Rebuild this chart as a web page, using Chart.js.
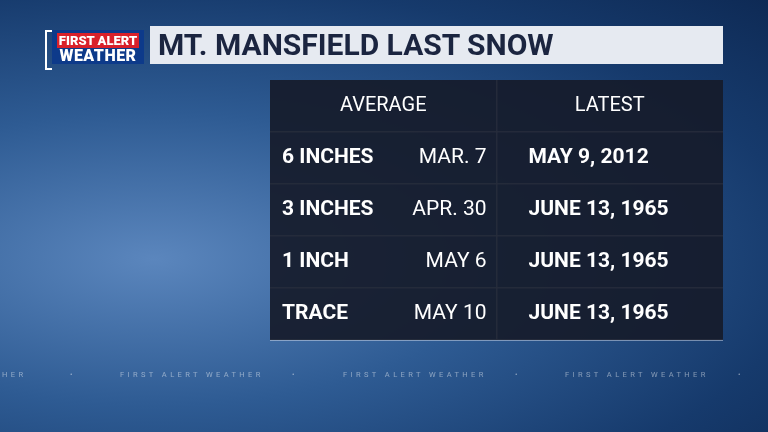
<!DOCTYPE html>
<html><head><meta charset="utf-8">
<script src="https://cdn.jsdelivr.net/npm/chart.js@4"></script>
<style>
body{margin:0;width:768px;height:432px;overflow:hidden;font-family:Roboto,"Open Sans",sans-serif;
background:radial-gradient(ellipse at 20% 60%,#5b86bd 0%,#2e5b93 40%,#163a6c 75%,#0e2a55 100%);}
#wrap{position:absolute;left:0;top:0;width:768px;height:432px}
.logo{position:absolute;left:52px;top:30px;width:92px;height:34px;background:#0d3a8a;color:#fff;font-weight:900;line-height:15px;padding-top:2px;box-sizing:border-box;text-align:center}
.logo .a{font-size:13px;background:#d9202a;display:inline-block;padding:0 2px}
.logo .b{font-size:16px;display:block;letter-spacing:0.5px}
.brk{position:absolute;left:45px;top:30px;width:5px;height:36px;border:2px solid #fff;border-right:none}
.title{position:absolute;left:150px;top:26px;width:573px;height:38px;background:#e6eaf1;color:#1b2540;font:bold 30px Roboto,sans-serif;line-height:38px;padding-left:8px;box-sizing:border-box}
.tk{position:absolute;top:370px;color:rgba(255,255,255,0.45);font-size:7.5px;letter-spacing:3.4px;white-space:nowrap}
</style></head>
<body>
<div id="wrap"><canvas id="c" width="768" height="432"></canvas></div>
<div class="brk"></div>
<div class="logo"><span class="a">FIRST ALERT</span><span class="b">WEATHER</span></div>
<div class="title">MT. MANSFIELD LAST SNOW</div>
<div class="tk" style="left:2px">HER</div>
<div class="tk" style="left:70px">•</div>
<div class="tk" style="left:120px">FIRST ALERT WEATHER</div>
<div class="tk" style="left:292px">•</div>
<div class="tk" style="left:343px">FIRST ALERT WEATHER</div>
<div class="tk" style="left:515px">•</div>
<div class="tk" style="left:565px">FIRST ALERT WEATHER</div>
<div class="tk" style="left:738px">•</div>
<script>
const headers = ["AVERAGE", "LATEST"];
const amounts = ["6 INCHES", "3 INCHES", "1 INCH", "TRACE"];
const averageDates = ["MAR. 7", "APR. 30", "MAY 6", "MAY 10"];
const latestDates = ["MAY 9, 2012", "JUNE 13, 1965", "JUNE 13, 1965", "JUNE 13, 1965"];

const tablePlugin = {
  id: "table",
  beforeDatasetsDraw(chart) {
    const ctx = chart.ctx, a = chart.chartArea;
    ctx.save();
    ctx.fillStyle = "rgba(22,27,42,0.92)";
    ctx.fillRect(a.left, a.top, a.right - a.left, a.bottom - a.top);
    ctx.restore();
  },
  afterDraw(chart) {
    const ctx = chart.ctx, x = chart.scales.x, y = chart.scales.y;
    ctx.save();
    ctx.fillStyle = "#fff";
    ctx.textBaseline = "middle";
    ctx.font = "20px Roboto, sans-serif";
    ctx.textAlign = "center";
    headers.forEach((h, i) => ctx.fillText(h, x.getPixelForValue(i + 0.5), y.getPixelForValue(0.5)));
    amounts.forEach((t, i) => {
      const py = y.getPixelForValue(i + 1.5);
      ctx.textAlign = "left";
      ctx.font = "bold 21px Roboto, sans-serif";
      ctx.fillText(t, x.getPixelForValue(0) + 12, py);
      ctx.textAlign = "right";
      ctx.font = "21px Roboto, sans-serif";
      ctx.fillText(averageDates[i], x.getPixelForValue(1) - 10, py);
      ctx.textAlign = "left";
      ctx.font = "bold 21px Roboto, sans-serif";
      ctx.fillText(latestDates[i], x.getPixelForValue(1) + 32, py);
    });
    ctx.restore();
  }
};

const line = "rgba(230,235,245,0.9)";
new Chart(document.getElementById("c"), {
  type: "scatter",
  data: { datasets: [{ data: [] }] },
  plugins: [tablePlugin],
  options: {
    responsive: false,
    animation: false,
    layout: { padding: { left: 270, right: 45, top: 80, bottom: 92 } },
    plugins: { legend: { display: false }, tooltip: { enabled: false } },
    scales: {
      x: { min: 0, max: 2, ticks: { display: false, stepSize: 1 }, border: { display: false },
           grid: { color: c => c.tick && c.tick.value === 1 ? line : "rgba(0,0,0,0)", lineWidth: 1.5, drawTicks: false } },
      y: { min: 0, max: 5, reverse: true, ticks: { display: false, stepSize: 1 }, border: { display: false },
           grid: { color: c => c.tick && c.tick.value > 0 ? line : "rgba(0,0,0,0)", lineWidth: 1.5, drawTicks: false } }
    }
  }
});
</script>
</body></html>
